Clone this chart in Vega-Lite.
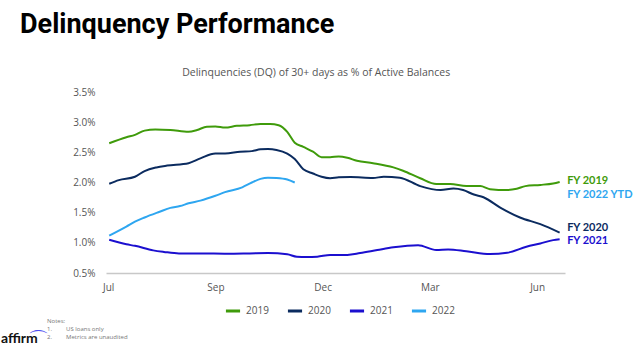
{
  "$schema": "https://vega.github.io/schema/vega-lite/v6.json",
  "width": 459,
  "height": 181,
  "autosize": {"type": "none"},
  "padding": {"left": 106, "top": 92, "right": 75, "bottom": 74},
  "background": "white",
  "config": {"view": {"stroke": null}, "font": "Open Sans", "axis": {"labelOverlap": false}},
  "title": {
    "text": "Delinquency Performance",
    "anchor": "start",
    "frame": "group",
    "dx": -86,
    "dy": 7,
    "fontSize": 27,
    "font": "Roboto",
    "fontWeight": "bold",
    "color": "#000000",
    "offset": 36
  },
  "datasets": {
    "series": [
      {"year": "2019", "t": 0.01, "dq": 2.65}, {"year": "2019", "t": 0.17, "dq": 2.75}, {"year": "2019", "t": 0.25, "dq": 2.79}, {"year": "2019", "t": 0.34, "dq": 2.86}, {"year": "2019", "t": 0.44, "dq": 2.88}, {"year": "2019", "t": 0.58, "dq": 2.87}, {"year": "2019", "t": 0.75, "dq": 2.84}, {"year": "2019", "t": 0.83, "dq": 2.87}, {"year": "2019", "t": 0.92, "dq": 2.925}, {"year": "2019", "t": 1.0, "dq": 2.93}, {"year": "2019", "t": 1.09, "dq": 2.91}, {"year": "2019", "t": 1.2, "dq": 2.94}, {"year": "2019", "t": 1.32, "dq": 2.95}, {"year": "2019", "t": 1.42, "dq": 2.97}, {"year": "2019", "t": 1.51, "dq": 2.97}, {"year": "2019", "t": 1.59, "dq": 2.95}, {"year": "2019", "t": 1.67, "dq": 2.84}, {"year": "2019", "t": 1.74, "dq": 2.66}, {"year": "2019", "t": 1.82, "dq": 2.59}, {"year": "2019", "t": 1.91, "dq": 2.51}, {"year": "2019", "t": 1.99, "dq": 2.42}, {"year": "2019", "t": 2.07, "dq": 2.42}, {"year": "2019", "t": 2.15, "dq": 2.43}, {"year": "2019", "t": 2.23, "dq": 2.41}, {"year": "2019", "t": 2.32, "dq": 2.36}, {"year": "2019", "t": 2.47, "dq": 2.32}, {"year": "2019", "t": 2.66, "dq": 2.25}, {"year": "2019", "t": 2.75, "dq": 2.195}, {"year": "2019", "t": 2.91, "dq": 2.07}, {"year": "2019", "t": 3.06, "dq": 1.975}, {"year": "2019", "t": 3.19, "dq": 1.975}, {"year": "2019", "t": 3.34, "dq": 1.94}, {"year": "2019", "t": 3.47, "dq": 1.94}, {"year": "2019", "t": 3.56, "dq": 1.89}, {"year": "2019", "t": 3.72, "dq": 1.875}, {"year": "2019", "t": 3.81, "dq": 1.895}, {"year": "2019", "t": 3.89, "dq": 1.94}, {"year": "2019", "t": 4.03, "dq": 1.96}, {"year": "2019", "t": 4.15, "dq": 1.985}, {"year": "2019", "t": 4.21, "dq": 2.01},
      {"year": "2020", "t": 0.01, "dq": 1.98}, {"year": "2020", "t": 0.1, "dq": 2.04}, {"year": "2020", "t": 0.25, "dq": 2.095}, {"year": "2020", "t": 0.34, "dq": 2.19}, {"year": "2020", "t": 0.45, "dq": 2.25}, {"year": "2020", "t": 0.55, "dq": 2.28}, {"year": "2020", "t": 0.75, "dq": 2.32}, {"year": "2020", "t": 0.86, "dq": 2.4}, {"year": "2020", "t": 1.0, "dq": 2.48}, {"year": "2020", "t": 1.09, "dq": 2.48}, {"year": "2020", "t": 1.23, "dq": 2.51}, {"year": "2020", "t": 1.34, "dq": 2.52}, {"year": "2020", "t": 1.42, "dq": 2.55}, {"year": "2020", "t": 1.49, "dq": 2.555}, {"year": "2020", "t": 1.57, "dq": 2.54}, {"year": "2020", "t": 1.67, "dq": 2.48}, {"year": "2020", "t": 1.74, "dq": 2.39}, {"year": "2020", "t": 1.82, "dq": 2.22}, {"year": "2020", "t": 1.91, "dq": 2.15}, {"year": "2020", "t": 1.99, "dq": 2.095}, {"year": "2020", "t": 2.07, "dq": 2.07}, {"year": "2020", "t": 2.15, "dq": 2.085}, {"year": "2020", "t": 2.26, "dq": 2.09}, {"year": "2020", "t": 2.47, "dq": 2.075}, {"year": "2020", "t": 2.57, "dq": 2.095}, {"year": "2020", "t": 2.72, "dq": 2.08}, {"year": "2020", "t": 2.91, "dq": 1.94}, {"year": "2020", "t": 3.1, "dq": 1.875}, {"year": "2020", "t": 3.22, "dq": 1.9}, {"year": "2020", "t": 3.31, "dq": 1.875}, {"year": "2020", "t": 3.41, "dq": 1.8}, {"year": "2020", "t": 3.5, "dq": 1.755}, {"year": "2020", "t": 3.66, "dq": 1.58}, {"year": "2020", "t": 3.84, "dq": 1.42}, {"year": "2020", "t": 4.03, "dq": 1.31}, {"year": "2020", "t": 4.21, "dq": 1.17},
      {"year": "2021", "t": 0.01, "dq": 1.05}, {"year": "2021", "t": 0.17, "dq": 0.975}, {"year": "2021", "t": 0.25, "dq": 0.95}, {"year": "2021", "t": 0.42, "dq": 0.875}, {"year": "2021", "t": 0.52, "dq": 0.85}, {"year": "2021", "t": 0.66, "dq": 0.825}, {"year": "2021", "t": 0.86, "dq": 0.825}, {"year": "2021", "t": 1.11, "dq": 0.82}, {"year": "2021", "t": 1.32, "dq": 0.825}, {"year": "2021", "t": 1.49, "dq": 0.83}, {"year": "2021", "t": 1.67, "dq": 0.81}, {"year": "2021", "t": 1.76, "dq": 0.77}, {"year": "2021", "t": 1.85, "dq": 0.765}, {"year": "2021", "t": 1.95, "dq": 0.77}, {"year": "2021", "t": 2.07, "dq": 0.8}, {"year": "2021", "t": 2.23, "dq": 0.8}, {"year": "2021", "t": 2.35, "dq": 0.83}, {"year": "2021", "t": 2.51, "dq": 0.88}, {"year": "2021", "t": 2.66, "dq": 0.925}, {"year": "2021", "t": 2.89, "dq": 0.96}, {"year": "2021", "t": 3.06, "dq": 0.88}, {"year": "2021", "t": 3.17, "dq": 0.89}, {"year": "2021", "t": 3.34, "dq": 0.86}, {"year": "2021", "t": 3.56, "dq": 0.815}, {"year": "2021", "t": 3.72, "dq": 0.835}, {"year": "2021", "t": 3.9, "dq": 0.935}, {"year": "2021", "t": 4.03, "dq": 0.99}, {"year": "2021", "t": 4.15, "dq": 1.045}, {"year": "2021", "t": 4.21, "dq": 1.06},
      {"year": "2022", "t": 0.01, "dq": 1.12}, {"year": "2022", "t": 0.17, "dq": 1.27}, {"year": "2022", "t": 0.25, "dq": 1.35}, {"year": "2022", "t": 0.34, "dq": 1.42}, {"year": "2022", "t": 0.48, "dq": 1.515}, {"year": "2022", "t": 0.58, "dq": 1.58}, {"year": "2022", "t": 0.67, "dq": 1.61}, {"year": "2022", "t": 0.75, "dq": 1.655}, {"year": "2022", "t": 0.86, "dq": 1.7}, {"year": "2022", "t": 1.0, "dq": 1.78}, {"year": "2022", "t": 1.09, "dq": 1.84}, {"year": "2022", "t": 1.25, "dq": 1.92}, {"year": "2022", "t": 1.34, "dq": 2.0}, {"year": "2022", "t": 1.42, "dq": 2.06}, {"year": "2022", "t": 1.49, "dq": 2.08}, {"year": "2022", "t": 1.57, "dq": 2.075}, {"year": "2022", "t": 1.67, "dq": 2.05}, {"year": "2022", "t": 1.74, "dq": 2.0}
    ],
    "endLabels": [
      {"year": "2019", "label": "FY 2019", "t": 4.28, "dq": 2.024},
      {"year": "2022", "label": "FY 2022 YTD", "t": 4.28, "dq": 1.792},
      {"year": "2020", "label": "FY 2020", "t": 4.28, "dq": 1.245},
      {"year": "2021", "label": "FY 2021", "t": 4.28, "dq": 1.03}
    ]
  },
  "layer": [
    {
      "data": {"name": "series"},
      "mark": {"type": "line", "strokeWidth": 2, "interpolate": "monotone"},
      "encoding": {
        "x": {
          "field": "t", "type": "quantitative",
          "scale": {"domain": [-0.02, 4.26], "nice": false, "zero": false},
          "axis": {
            "title": null, "values": [0, 1, 2, 3, 4],
            "labelExpr": "['Jul','Sep','Dec','Mar','Jun'][datum.value]",
            "ticks": false, "grid": false, "domainColor": "#c8c8c8", "domainWidth": 1.5,
            "labelPadding": 9, "labelFontSize": 10, "labelColor": "#555555", "labelFont": "Open Sans",
            "labelOverlap": false
          }
        },
        "y": {
          "field": "dq", "type": "quantitative",
          "scale": {"domain": [0.5, 3.5], "nice": false, "zero": false},
          "axis": {
            "title": null, "tickCount": 6,
            "format": ".1f",
            "labelExpr": "datum.label + '%'",
            "ticks": false, "grid": false, "domain": false, "labelOverlap": false,
            "labelPadding": 11, "labelFontSize": 10, "labelColor": "#555555", "labelFont": "Open Sans"
          }
        },
        "color": {
          "field": "year", "type": "nominal",
          "scale": {"domain": ["2019", "2020", "2021", "2022"], "range": ["#3f9b0b", "#0b2b5f", "#1b0fcf", "#2ea6f0"]},
          "legend": {
            "orient": "none", "legendX": 118, "legendY": 210, "direction": "horizontal",
            "title": null, "symbolType": "stroke", "symbolSize": 200, "symbolStrokeWidth": 3,
            "labelFontSize": 10, "labelColor": "#555555", "labelFont": "Open Sans",
            "labelOffset": 4, "columnPadding": 12
          }
        }
      }
    },
    {
      "data": {"name": "endLabels"},
      "mark": {"type": "text", "align": "left", "baseline": "middle", "fontSize": 11, "font": "Lato", "fontWeight": "bold"},
      "encoding": {
        "x": {"field": "t", "type": "quantitative"},
        "y": {"field": "dq", "type": "quantitative"},
        "text": {"field": "label"},
        "color": {"field": "year", "type": "nominal", "legend": null}
      }
    },
    {
      "data": {"values": [{}]},
      "mark": {"type": "text", "align": "center", "baseline": "middle", "fontSize": 10.5, "font": "Open Sans", "color": "#555555"},
      "encoding": {
        "x": {"datum": 1.94, "type": "quantitative"},
        "y": {"datum": 3.815, "type": "quantitative"},
        "text": {"value": "Delinquencies (DQ) of 30+ days as % of Active Balances"}
      }
    },
    {
      "data": {"values": [{}]},
      "mark": {"type": "text", "align": "left", "baseline": "top", "fontSize": 6, "font": "Open Sans", "color": "#777777", "lineHeight": 8},
      "encoding": {
        "x": {"datum": -0.57, "type": "quantitative"},
        "y": {"datum": -0.248, "type": "quantitative"},
        "text": {"value": ["Notes:", "1.\u00a0\u00a0\u00a0\u00a0\u00a0\u00a0\u00a0\u00a0\u00a0US loans only", "2.\u00a0\u00a0\u00a0\u00a0\u00a0\u00a0\u00a0\u00a0\u00a0Metrics are unaudited"]}
      }
    },
    {
      "data": {"values": [{}]},
      "mark": {"type": "text", "align": "left", "baseline": "alphabetic", "fontSize": 14, "font": "Lato", "fontWeight": "bold", "color": "#111111"},
      "encoding": {
        "x": {"datum": -1.0, "type": "quantitative"},
        "y": {"datum": -0.66, "type": "quantitative"},
        "text": {"value": "affirm"}
      }
    },
    {
      "data": {"values": [{}]},
      "mark": {"type": "text", "align": "center", "baseline": "middle", "fontSize": 21, "font": "DejaVu Sans", "color": "#4a4af0"},
      "encoding": {
        "x": {"datum": -0.645, "type": "quantitative"},
        "y": {"datum": -0.63, "type": "quantitative"},
        "text": {"value": "⌒"}
      }
    }
  ]
}
